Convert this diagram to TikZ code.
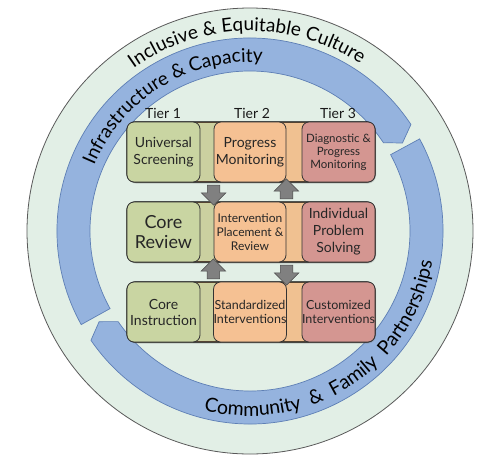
\documentclass[tikz,border=0pt]{standalone}
\usepackage{fontspec}
\setmainfont{Lato}
\usetikzlibrary{shapes.arrows,decorations.text,calc,shadows}
\definecolor{mint}{HTML}{E2EFE6}
\definecolor{ringblue}{HTML}{95B3DE}
\definecolor{ringedge}{HTML}{5E7FB5}
\definecolor{tgreen}{HTML}{C9D5A2}
\definecolor{torange}{HTML}{F5C193}
\definecolor{tred}{HTML}{D49691}
\definecolor{gapgreen}{HTML}{CBD0A0}
\definecolor{gaporange}{HTML}{F0C191}
\newcommand\arcfont{\fontsize{19}{19}\selectfont}
\newcommand\arcfontb{\fontsize{19.5}{19.5}\selectfont}
\newcommand\amp{\&}
\newcommand\wgap{\kern5pt}
\tikzset{
  band/.style={fill=ringblue, draw=ringedge, line width=0.7pt},
  rowbar/.style={draw=black, line width=1.2pt, fill=gaporange, rounded corners=8pt,
    minimum width=248pt, minimum height=60pt, inner sep=0pt,
    drop shadow={opacity=0.35, shadow xshift=1pt, shadow yshift=-1.5pt}},
  tbox/.style={draw=black!80, line width=0.8pt, rounded corners=7pt,
    minimum width=73pt, minimum height=60pt, inner sep=0pt, align=center, text=black!85},
  gbox/.style={tbox, fill=tgreen},
  obox/.style={tbox, fill=torange},
  rbox/.style={tbox, fill=tred},
  tierlabel/.style={font=\fontsize{14}{17}\selectfont, text=black!90},
  garrow/.style={single arrow, fill=gray, draw=black!70, line width=0.6pt,
    minimum height=20pt, single arrow head extend=6pt, inner xsep=0pt, inner ysep=6pt}
}
\begin{document}
\begin{tikzpicture}[x=1pt,y=1pt]
\useasboundingbox (-250,-236) rectangle (250,231);
% outer disc
\draw[fill=mint, draw=gray!70!black, line width=0.8pt] (0,0) circle[radius=223];
% blue circular arrows
\draw[band] (209:193) arc[start angle=209,end angle=33.5,radius=193] -- (30:176)
  -- (33.5:160) arc[start angle=33.5,end angle=209,radius=160] -- cycle;
\draw[band] (28.5:193) arc[start angle=28.5,end angle=-145.5,radius=193] -- (-149:176)
  -- (-145.5:160) arc[start angle=-145.5,end angle=28.5,radius=160] -- cycle;
% curved texts
\path[decorate, decoration={text along path, text align=center,
  text={|\arcfont|Inclusive {\amp} Equitable Culture}}]
  (171:200) arc[start angle=171,end angle=11,radius=200];
\path[decorate, decoration={text along path, text align=center,
  text={|\arcfont|Infrastructure {\amp} Capacity}}]
  (201.5:169) arc[start angle=201.5,end angle=41.5,radius=169];
\path[decorate, decoration={text along path, text align=center,
  text={|\arcfontb|Community {\wgap}{\amp}{\wgap} Family {\wgap}Partnerships}}]
  (223:185) arc[start angle=223,end angle=383,radius=185];
% tier labels
\node[tierlabel] (t1) at (-87,118) {Tier 1};
\node[tierlabel] (t2) at (2,118) {Tier 2};
\node[tierlabel] (t3) at (88,118) {Tier 3};
% row bars
\node[rowbar] (bar1) at (1,79) {};
\node[rowbar] (bar2) at (1,-1) {};
\node[rowbar] (bar3) at (1,-81) {};
\fill[gapgreen] (-70,49.7) rectangle (-20,108.3);
\fill[gapgreen] (-70,-30.3) rectangle (-20,28.3);
\fill[gapgreen] (-70,-110.3) rectangle (-20,-51.7);
% row 1
\node[gbox, font=\fontsize{14}{17}\selectfont] (us) at (-86.5,79) {Universal\\Screening};
\node[obox, font=\fontsize{14}{17}\selectfont, minimum width=72pt] (pm) at (0,79) {Progress\\Monitoring};
\node[rbox, font=\fontsize{11.5}{13}\selectfont] (dp) at (88.5,79) {Diagnostic \&\\Progress\\Monitoring};
% row 2
\node[gbox, font=\fontsize{18}{20}\selectfont] (cr) at (-86.5,-1) {Core\\Review};
\node[obox, font=\fontsize{12}{14}\selectfont, minimum width=72pt] (ip) at (0,-1) {Intervention\\Placement \&\\Review};
\node[rbox, font=\fontsize{14}{17}\selectfont] (ps) at (88.5,-1) {Individual\\Problem\\Solving};
% row 3
\node[gbox, font=\fontsize{14}{16}\selectfont] (ci) at (-86.5,-81) {Core\\Instruction};
\node[obox, font=\fontsize{12.5}{14.5}\selectfont, minimum width=72pt] (si) at (0,-81) {Standardized\\Interventions};
\node[rbox, font=\fontsize{12.5}{14.5}\selectfont] (cu) at (88.5,-81) {Customized\\Interventions};
% block arrows between rows
\node[garrow, rotate=-90] (a1) at ($(pm.south west)!0.5!(ip.north west)$) {};
\node[garrow, rotate=90] (a2) at ($(pm.south east)!0.5!(ip.north east)$) {};
\node[garrow, rotate=90] (a3) at ($(ip.south west)!0.5!(si.north west)$) {};
\node[garrow, rotate=-90] (a4) at ($(ip.south east)!0.5!(si.north east)$) {};
\end{tikzpicture}
\end{document}
